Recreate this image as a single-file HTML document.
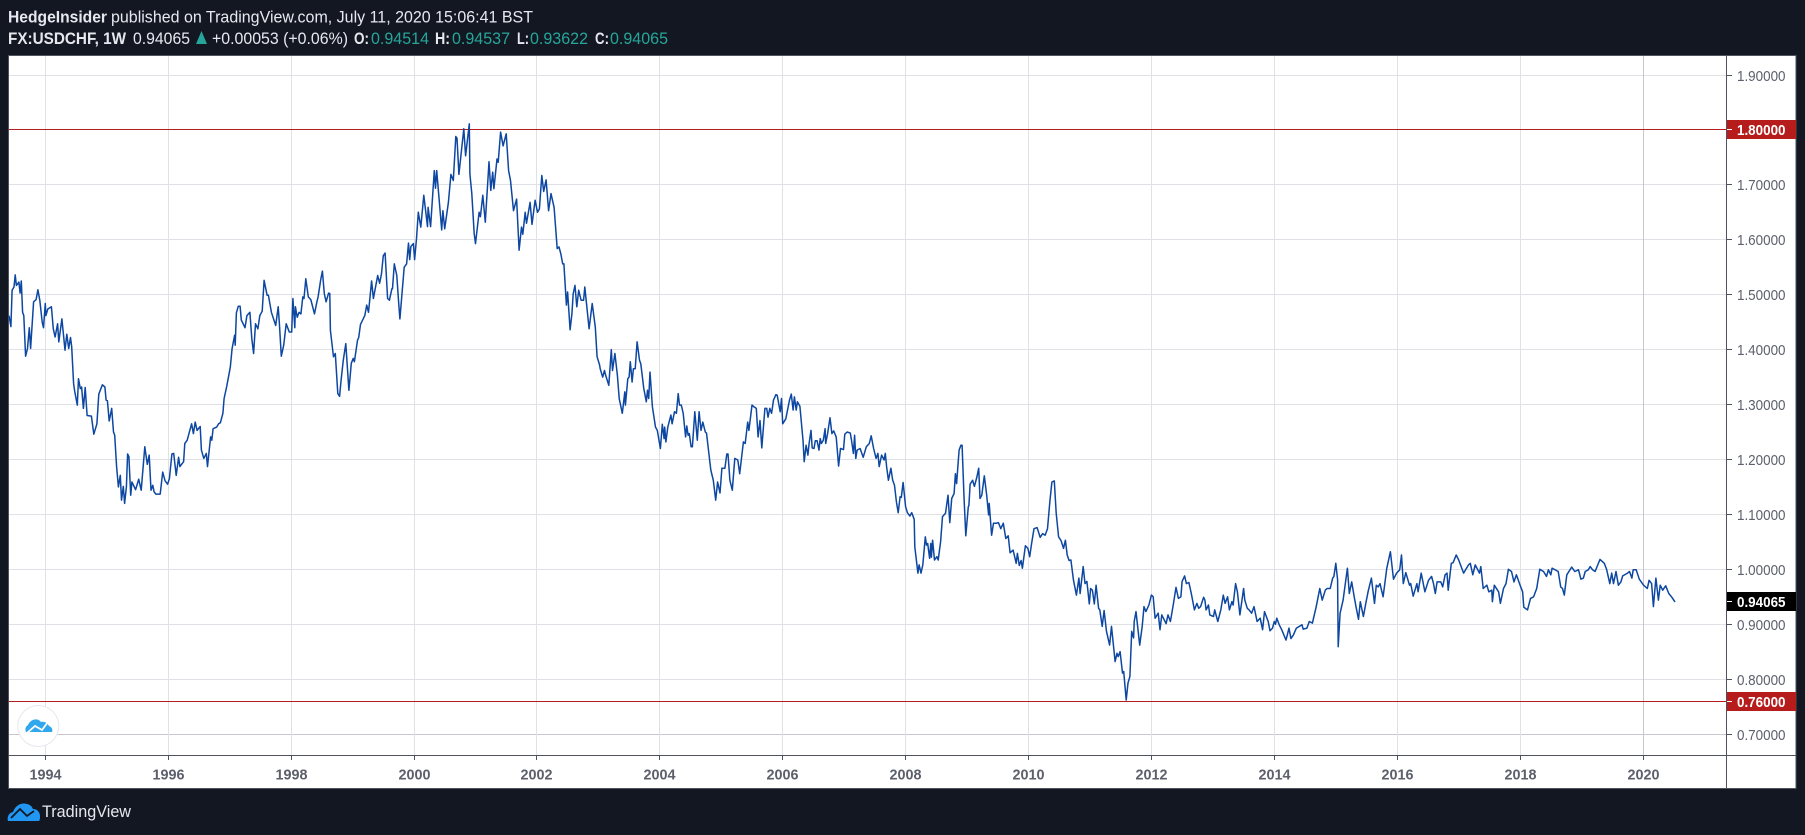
<!DOCTYPE html>
<html lang="en">
<head>
<meta charset="utf-8">
<title>FX:USDCHF 1W chart</title>
<style>
html,body{margin:0;padding:0;background:#131722;width:1805px;height:835px;overflow:hidden}
svg{display:block;font-family:"Liberation Sans",sans-serif}
</style>
</head>
<body>
<svg id="chart" xmlns="http://www.w3.org/2000/svg" width="1805" height="835" viewBox="0 0 1805 835">
  <rect x="0" y="0" width="1805" height="835" fill="#131722"/>
  <g font-size="16.5" fill="#e6e8ee">
    <text x="8" y="22.500" font-weight="bold" textLength="99" lengthAdjust="spacingAndGlyphs">HedgeInsider</text>
    <text x="111" y="22.500" textLength="422" lengthAdjust="spacingAndGlyphs">published on TradingView.com, July 11, 2020 15:06:41 BST</text>
  </g>
  <g font-size="16.5" fill="#e6e8ee">
    <text x="8" y="44" font-weight="bold" textLength="118" lengthAdjust="spacingAndGlyphs">FX:USDCHF, 1W</text>
    <text x="133" y="44" textLength="57" lengthAdjust="spacingAndGlyphs">0.94065</text>
    <polygon points="196,44 207,44 201.5,31" fill="#26a69a"/>
    <text x="212" y="44" textLength="136" lengthAdjust="spacingAndGlyphs">+0.00053 (+0.06%)</text>
    <text x="354" y="44" font-weight="bold" textLength="15" lengthAdjust="spacingAndGlyphs">O:</text>
    <text x="371" y="44" fill="#26a69a" textLength="58" lengthAdjust="spacingAndGlyphs">0.94514</text>
    <text x="435" y="44" font-weight="bold" textLength="15" lengthAdjust="spacingAndGlyphs">H:</text>
    <text x="452" y="44" fill="#26a69a" textLength="58" lengthAdjust="spacingAndGlyphs">0.94537</text>
    <text x="517" y="44" font-weight="bold" textLength="12" lengthAdjust="spacingAndGlyphs">L:</text>
    <text x="530" y="44" fill="#26a69a" textLength="58" lengthAdjust="spacingAndGlyphs">0.93622</text>
    <text x="595" y="44" font-weight="bold" textLength="14" lengthAdjust="spacingAndGlyphs">C:</text>
    <text x="610" y="44" fill="#26a69a" textLength="58" lengthAdjust="spacingAndGlyphs">0.94065</text>
  </g>
  <rect x="8.5" y="55.5" width="1787.5" height="733" fill="#ffffff" stroke="#50535e" stroke-width="1"/>
  <g id="grid"></g>
  <g id="levels"></g>
  <path id="series" fill="none" stroke="#0d47a1" stroke-width="1.5" stroke-linejoin="round"/>
  <line x1="1726.5" y1="55" x2="1726.5" y2="788" stroke="#50535e"/>
  <line x1="8.5" y1="755.5" x2="1796" y2="755.5" stroke="#50535e"/>
  <g id="priceAxis"></g>
  <g id="timeAxis"></g>
  <g id="badges"></g>
  <g>
    <circle cx="38.3" cy="726" r="20.5" fill="#ffffff" stroke="#e6e8ee" stroke-width="1"/>
    <path d="M26 732c-1.500-3 0-6 2-7 2-5 9-8 13-3 4-1 7 2 8 4 3 1 4 4 3 6z" fill="#31a7ee"/>
    <path d="M27 733l8-7 7 4 6-8 5 6" fill="none" stroke="#ffffff" stroke-width="1.800"/>
  </g>
  <g>
    <path d="M8 821c-1-3 0-8 5-9 2-6 8-10 14-8 4 1 5 3 6 5 4 0 7 3 7 7 0 2 0 4-1 5z" fill="#2196f3"/>
    <path d="M11 818l9-9 7 7 7-5" fill="none" stroke="#131722" stroke-width="1.800"/>
    <text x="42" y="817" font-size="17" fill="#e6e8ee" textLength="89" lengthAdjust="spacingAndGlyphs">TradingView</text>
  </g>
</svg>
<script>
const priceTicks = [0.7,0.8,0.9,1.0,1.1,1.2,1.3,1.4,1.5,1.6,1.7,1.8,1.9];
const yearTicks = [1994,1996,1998,2000,2002,2004,2006,2008,2010,2012,2014,2016,2018,2020];
const levelValues = [1.8,0.76];
const lastClose = 0.94065;
const years = [
1993.41,1993.44,1993.46,1993.49,1993.51,1993.53,1993.57,1993.59,1993.61,1993.63,1993.65,1993.68,1993.71,1993.74,1993.76,1993.81,1993.85,1993.88,1993.91,1993.95,1993.97,1994.00,1994.01,1994.04,1994.10,1994.13,1994.16,1994.20,1994.22,1994.27,1994.32,1994.35,1994.38,1994.41,1994.43,1994.46,1994.48,1994.52,1994.54,1994.57,1994.59,1994.62,1994.65,1994.68,1994.75,1994.79,1994.84,1994.87,1994.93,1994.97,1994.99,1995.01,1995.04,1995.08,1995.11,1995.13,1995.16,1995.19,1995.22,1995.24,1995.27,1995.29,1995.32,1995.34,1995.36,1995.39,1995.41,1995.47,1995.52,1995.56,1995.62,1995.66,1995.69,1995.72,1995.75,1995.77,1995.80,1995.87,1995.91,1995.95,1995.99,1996.02,1996.06,1996.09,1996.13,1996.17,1996.19,1996.25,1996.27,1996.31,1996.38,1996.41,1996.44,1996.47,1996.52,1996.54,1996.58,1996.62,1996.64,1996.69,1996.71,1996.73,1996.79,1996.82,1996.85,1996.89,1996.91,1996.95,1997.01,1997.04,1997.08,1997.09,1997.11,1997.14,1997.17,1997.19,1997.25,1997.28,1997.33,1997.36,1997.39,1997.42,1997.46,1997.49,1997.53,1997.56,1997.61,1997.63,1997.68,1997.75,1997.79,1997.81,1997.84,1997.88,1997.92,1997.97,1998.01,1998.03,1998.06,1998.07,1998.10,1998.13,
1998.16,1998.19,1998.21,1998.24,1998.28,1998.32,1998.38,1998.42,1998.44,1998.48,1998.51,1998.54,1998.57,1998.61,1998.63,1998.64,1998.69,1998.72,1998.76,1998.79,1998.81,1998.85,1998.89,1998.94,1998.98,1999.01,1999.03,1999.08,1999.10,1999.13,1999.20,1999.23,1999.26,1999.31,1999.34,1999.41,1999.44,1999.47,1999.50,1999.53,1999.57,1999.60,1999.64,1999.65,1999.68,1999.72,1999.75,1999.77,1999.84,1999.88,1999.91,1999.93,1999.95,1999.99,2000.01,2000.04,2000.07,2000.11,2000.16,2000.22,2000.23,2000.27,2000.33,2000.35,2000.37,2000.45,2000.47,2000.50,2000.56,2000.60,2000.64,2000.68,2000.70,2000.73,2000.81,2000.84,2000.90,2000.91,2000.94,2000.98,2001.00,2001.06,2001.08,2001.12,2001.16,2001.22,2001.25,2001.28,2001.30,2001.35,2001.37,2001.41,2001.45,2001.50,2001.54,2001.57,2001.62,2001.67,2001.71,2001.75,2001.77,2001.81,2001.83,2001.89,2001.92,2001.97,2002.01,2002.04,2002.08,2002.11,2002.15,2002.19,2002.23,2002.28,2002.33,2002.36,2002.39,2002.42,2002.44,2002.48,2002.50,2002.54,2002.57,2002.59,2002.62,2002.65,2002.68,2002.72,2002.76,2002.78,2002.85,2002.90,2002.95,2002.98,2003.02,
2003.03,2003.07,2003.10,2003.12,2003.17,2003.21,2003.23,2003.27,2003.31,2003.34,2003.39,2003.43,2003.44,2003.48,2003.50,2003.52,2003.55,2003.57,2003.60,2003.63,2003.67,2003.69,2003.74,2003.78,2003.80,2003.82,2003.84,2003.88,2003.93,2003.96,2004.01,2004.04,2004.07,2004.08,2004.10,2004.13,2004.18,2004.20,2004.24,2004.27,2004.30,2004.32,2004.35,2004.38,2004.42,2004.44,2004.46,2004.48,2004.51,2004.53,2004.57,2004.61,2004.64,2004.67,2004.70,2004.74,2004.76,2004.83,2004.87,2004.91,2004.94,2004.98,2005.01,2005.06,2005.09,2005.11,2005.14,2005.18,2005.22,2005.27,2005.30,2005.36,2005.39,2005.43,2005.45,2005.50,2005.53,2005.57,2005.60,2005.63,2005.66,2005.71,2005.74,2005.76,2005.79,2005.82,2005.85,2005.89,2005.91,2005.96,2005.98,2006.00,2006.05,2006.11,2006.14,2006.17,2006.19,2006.22,2006.24,2006.28,2006.33,2006.35,2006.38,2006.41,2006.43,2006.46,2006.48,2006.51,2006.53,2006.56,2006.59,2006.61,2006.63,2006.66,2006.69,2006.70,2006.73,2006.77,2006.80,2006.83,2006.87,2006.91,2006.94,2006.99,2007.01,2007.05,2007.10,2007.12,2007.15,2007.17,2007.19,2007.21,2007.26,2007.31,2007.36,2007.41,2007.44,2007.48,2007.52,2007.55,2007.57,2007.61,2007.65,2007.67,2007.69,2007.72,2007.76,2007.79,2007.82,2007.85,2007.88,2007.91,2007.93,2007.96,2008.00,2008.03,2008.07,2008.10,2008.14,
2008.15,2008.20,2008.22,2008.25,2008.28,2008.32,2008.34,2008.36,2008.39,2008.41,2008.42,2008.44,2008.47,2008.51,2008.53,2008.57,2008.60,2008.65,2008.69,2008.72,2008.75,2008.79,2008.81,2008.83,2008.87,2008.90,2008.92,2008.95,2008.98,2009.02,2009.03,2009.05,2009.09,2009.12,2009.16,2009.19,2009.21,2009.24,2009.28,2009.32,2009.35,2009.36,2009.40,2009.43,2009.48,2009.51,2009.55,2009.59,2009.63,2009.67,2009.70,2009.75,2009.80,2009.82,2009.85,2009.88,2009.90,2009.95,2009.99,2010.02,2010.05,2010.09,2010.14,2010.19,2010.23,2010.27,2010.31,2010.35,2010.38,2010.42,2010.45,2010.49,2010.53,2010.57,2010.60,2010.63,2010.66,2010.69,2010.73,2010.78,2010.82,2010.84,2010.89,2010.92,2010.95,2010.99,2011.01,2011.04,2011.07,2011.10,2011.14,2011.16,2011.20,2011.23,2011.27,2011.32,2011.35,2011.41,2011.44,2011.46,2011.49,2011.53,2011.55,2011.59,2011.62,2011.65,2011.68,2011.71,2011.72,2011.75,2011.81,2011.85,2011.88,2011.91,2011.96,2012.00,2012.03,2012.06,2012.11,2012.14,2012.17,2012.24,2012.27,2012.31,2012.36,2012.40,2012.44,2012.48,2012.50,2012.54,2012.57,2012.61,2012.65,2012.70,2012.74,2012.77,2012.80,2012.85,2012.87,2012.89,2012.93,2012.95,2013.01,2013.03,2013.08,2013.13,2013.17,2013.20,2013.24,2013.27,2013.31,2013.33,2013.37,2013.40,2013.44,2013.50,2013.52,2013.56,2013.59,2013.63,2013.67,2013.72,2013.77,
2013.81,2013.84,2013.90,2013.93,2013.97,2014.00,2014.02,2014.04,2014.08,2014.12,2014.19,2014.24,2014.27,2014.31,2014.36,2014.45,2014.47,2014.53,2014.57,2014.62,2014.68,2014.74,2014.78,2014.83,2014.86,2014.91,2014.95,2014.97,2015.00,2015.03,2015.04,2015.07,2015.12,2015.19,2015.22,2015.26,2015.30,2015.33,2015.37,2015.40,2015.45,2015.49,2015.53,2015.58,2015.63,2015.66,2015.69,2015.72,2015.77,2015.83,2015.89,2015.94,2015.99,2016.04,2016.07,2016.10,2016.14,2016.20,2016.22,2016.26,2016.32,2016.34,2016.39,2016.45,2016.51,2016.56,2016.59,2016.62,2016.65,2016.71,2016.74,2016.78,2016.81,2016.83,2016.88,2016.91,2016.96,2017.00,2017.08,2017.16,2017.19,2017.23,2017.27,2017.34,2017.36,2017.40,2017.46,2017.49,2017.54,2017.55,2017.58,2017.65,2017.68,2017.73,2017.77,2017.81,2017.86,2017.90,2017.94,2018.00,2018.04,2018.06,2018.12,2018.17,2018.22,2018.27,2018.32,2018.38,2018.43,2018.46,2018.50,2018.52,2018.62,2018.66,2018.69,2018.72,2018.76,2018.84,2018.89,2018.95,2018.99,2019.03,2019.06,2019.11,2019.14,2019.18,2019.22,2019.30,2019.37,2019.41,2019.46,2019.49,2019.52,2019.56,2019.60,2019.64,2019.67,2019.75,2019.78,2019.82,2019.84,2019.89,2019.94,2020.01,2020.07,2020.10,2020.14,2020.17,2020.21,2020.25,2020.28,2020.32,2020.37,2020.42,2020.47,2020.52
];
const closes = [
1.462,1.442,1.508,1.514,1.536,1.517,1.523,1.503,1.525,1.468,1.462,1.388,1.402,1.440,1.402,1.487,1.491,1.509,1.490,1.450,1.440,1.484,1.462,1.474,1.478,1.438,1.423,1.447,1.414,1.456,1.399,1.428,1.402,1.422,1.405,1.338,1.323,1.299,1.347,1.329,1.332,1.293,1.331,1.280,1.279,1.246,1.265,1.319,1.336,1.332,1.308,1.307,1.270,1.293,1.250,1.244,1.187,1.150,1.171,1.126,1.151,1.120,1.150,1.210,1.205,1.135,1.159,1.145,1.164,1.144,1.223,1.191,1.208,1.144,1.153,1.141,1.137,1.137,1.177,1.161,1.155,1.165,1.210,1.211,1.171,1.204,1.187,1.196,1.229,1.235,1.265,1.247,1.268,1.253,1.260,1.217,1.202,1.211,1.187,1.241,1.235,1.256,1.259,1.265,1.267,1.284,1.311,1.332,1.368,1.402,1.426,1.408,1.467,1.479,1.479,1.454,1.440,1.462,1.468,1.420,1.393,1.447,1.438,1.462,1.470,1.526,1.499,1.499,1.468,1.444,1.478,1.447,1.388,1.408,1.447,1.432,1.432,1.493,1.440,1.478,1.459,1.468,
1.465,1.496,1.493,1.529,1.496,1.491,1.465,1.487,1.496,1.526,1.543,1.502,1.487,1.503,1.502,1.435,1.387,1.393,1.320,1.315,1.341,1.381,1.411,1.326,1.375,1.384,1.378,1.417,1.422,1.446,1.462,1.481,1.468,1.525,1.493,1.535,1.521,1.537,1.571,1.576,1.493,1.490,1.511,1.511,1.556,1.535,1.487,1.456,1.550,1.556,1.594,1.564,1.588,1.593,1.564,1.602,1.650,1.623,1.681,1.624,1.659,1.624,1.726,1.694,1.726,1.618,1.653,1.620,1.668,1.719,1.708,1.788,1.785,1.719,1.802,1.753,1.811,1.720,1.684,1.611,1.593,1.650,1.642,1.681,1.632,1.742,1.690,1.723,1.693,1.747,1.741,1.796,1.771,1.793,1.726,1.708,1.653,1.674,1.581,1.623,1.610,1.650,1.630,1.668,1.628,1.672,1.650,1.656,1.717,1.688,1.709,1.653,1.684,1.659,1.584,1.587,1.574,1.556,1.556,1.481,1.505,1.436,1.465,1.502,1.517,1.478,1.508,1.490,1.490,1.514,1.438,1.484,1.441,1.387,1.372,
1.365,1.350,1.362,1.353,1.335,1.400,1.362,1.393,1.353,1.311,1.284,1.323,1.299,1.347,1.350,1.378,1.341,1.365,1.365,1.414,1.381,1.374,1.329,1.305,1.326,1.311,1.359,1.296,1.259,1.253,1.220,1.264,1.238,1.259,1.232,1.259,1.281,1.265,1.287,1.284,1.320,1.299,1.299,1.284,1.241,1.261,1.244,1.247,1.223,1.223,1.287,1.235,1.287,1.253,1.268,1.250,1.248,1.181,1.162,1.126,1.159,1.139,1.184,1.184,1.210,1.210,1.162,1.144,1.202,1.199,1.174,1.232,1.229,1.268,1.253,1.299,1.296,1.293,1.241,1.271,1.221,1.293,1.293,1.277,1.293,1.284,1.308,1.318,1.317,1.287,1.311,1.265,1.274,1.308,1.319,1.290,1.314,1.290,1.305,1.297,1.235,1.196,1.226,1.208,1.229,1.253,1.221,1.220,1.234,1.234,1.217,1.238,1.229,1.235,1.256,1.229,1.247,1.276,1.247,1.252,1.241,1.188,1.220,1.218,1.246,1.250,1.248,1.235,1.211,1.244,1.202,1.217,1.220,1.204,1.223,1.229,1.243,1.220,1.202,1.211,1.187,1.208,1.199,1.211,1.187,1.162,1.184,1.162,1.153,1.123,1.103,1.132,1.131,1.158,1.114,1.103,1.097,1.103,1.091,
1.041,0.993,1.008,0.993,1.008,1.059,1.044,1.047,1.020,1.047,1.022,1.053,1.017,1.023,1.017,1.050,1.096,1.102,1.135,1.085,1.129,1.138,1.174,1.156,1.217,1.226,1.226,1.132,1.061,1.114,1.116,1.155,1.162,1.151,1.168,1.184,1.129,1.135,1.170,1.135,1.099,1.120,1.062,1.084,1.084,1.085,1.074,1.084,1.056,1.061,1.030,1.035,1.011,1.029,1.007,1.016,1.002,1.043,1.038,1.023,1.047,1.074,1.076,1.058,1.065,1.062,1.074,1.126,1.159,1.161,1.102,1.059,1.052,1.038,1.053,1.026,1.016,1.017,0.981,0.953,0.984,0.956,1.005,0.974,0.978,0.937,0.965,0.962,0.937,0.971,0.929,0.926,0.896,0.925,0.887,0.862,0.896,0.832,0.847,0.841,0.850,0.811,0.814,0.762,0.793,0.805,0.887,0.875,0.905,0.923,0.862,0.896,0.932,0.923,0.935,0.953,0.950,0.911,0.920,0.890,0.917,0.901,0.917,0.905,0.938,0.967,0.947,0.950,0.978,0.988,0.974,0.976,0.956,0.926,0.938,0.929,0.932,0.949,0.944,0.926,0.935,0.917,0.914,0.926,0.905,0.926,0.953,0.938,0.950,0.926,0.941,0.935,0.974,0.959,0.917,0.965,0.944,0.929,0.926,0.920,0.932,0.905,0.911,
0.890,0.923,0.905,0.888,0.893,0.905,0.900,0.911,0.899,0.890,0.871,0.893,0.874,0.880,0.893,0.899,0.891,0.893,0.905,0.902,0.931,0.965,0.944,0.962,0.965,0.965,0.984,0.987,1.011,0.981,0.859,0.920,0.944,1.002,0.956,0.977,0.950,0.932,0.909,0.941,0.914,0.939,0.961,0.984,0.938,0.971,0.968,0.974,0.950,1.002,1.032,0.982,0.993,0.999,1.026,0.974,0.994,0.971,0.974,0.951,0.974,0.959,0.993,0.959,0.980,0.987,0.974,0.956,0.977,0.977,0.968,0.990,0.993,0.962,1.011,1.012,1.026,1.017,0.993,1.008,1.011,0.990,1.008,0.993,1.005,0.965,0.971,0.959,0.962,0.941,0.971,0.959,0.938,0.965,0.974,1.000,0.996,0.977,0.990,0.971,0.959,0.931,0.926,0.947,0.950,0.965,1.000,0.996,0.987,0.999,0.990,1.002,0.996,0.968,0.965,0.953,0.990,1.004,0.996,0.999,0.982,0.984,0.996,0.999,1.005,0.999,0.996,1.018,1.011,0.999,0.974,0.993,0.974,0.996,0.971,0.977,0.988,0.993,0.996,0.984,0.999,0.999,0.982,0.971,0.965,0.980,0.974,0.932,0.984,0.944,0.971,0.962,0.970,0.956,0.949,0.94065
];

const NS = 'http://www.w3.org/2000/svg';
function xOf(year){ return 45.3 + (year - 1994) * 61.45; }
function yOf(price){ return 569.3 - (price - 1) * 549.2; }
function make(parent, tag, attrs, text){
  const el = document.createElementNS(NS, tag);
  for (const k in attrs) el.setAttribute(k, attrs[k]);
  if (text !== undefined) el.textContent = text;
  parent.appendChild(el);
  return el;
}
function crisp(v){ return Math.round(v - 0.5) + 0.5; }

const grid = document.getElementById('grid');
const priceAxis = document.getElementById('priceAxis');
const timeAxis = document.getElementById('timeAxis');
const levels = document.getElementById('levels');
const badges = document.getElementById('badges');

priceTicks.forEach(function(p){
  const y = crisp(yOf(p));
  const line = make(grid, 'line', {x1:9, x2:1726, y1:y, y2:y, stroke: p === 0.7 ? '#c6c8ce' : '#dfe1e6', 'stroke-width':1});
  
  
  const tick = make(priceAxis, 'line', {x1:1727, x2:1732, y1:y, y2:y, stroke:'#50535e'});
  
  
  const label = make(priceAxis, 'text', {x:1737, y:y + 5.5, 'font-size':15, fill:'#5d606b', textLength:48.5, lengthAdjust:'spacingAndGlyphs'}, p.toFixed(5));
  
  
});

yearTicks.forEach(function(yr){
  const x = crisp(xOf(yr));
  const line = make(grid, 'line', {x1:x, x2:x, y1:56, y2:755, stroke: yr === 2020 ? '#c6c8ce' : '#dfe1e6', 'stroke-width':1});
  
  
  const tick = make(timeAxis, 'line', {x1:x, x2:x, y1:756, y2:760, stroke:'#50535e'});
  
  
  const label = make(timeAxis, 'text', {x:x - 16, y:779.5, 'font-size':15, 'font-weight':'bold', fill:'#5d606b', textLength:32, lengthAdjust:'spacingAndGlyphs'}, String(yr));
  
  
});

levelValues.forEach(function(v){
  const y = crisp(yOf(v));
  const line = make(levels, 'line', {x1:9, x2:1726, y1:y, y2:y, stroke:'#b71c1c', 'stroke-width':1});
  
  
  const box = make(badges, 'rect', {x:1727, y:y - 9.5, width:69, height:19, fill:'#b71c1c'});
  
  
  const tick = make(badges, 'line', {x1:1727, x2:1732, y1:y, y2:y, stroke:'#ffffff'});
  
  
  const label = make(badges, 'text', {x:1737, y:y + 5.5, 'font-size':15, 'font-weight':'bold', fill:'#ffffff', textLength:48.5, lengthAdjust:'spacingAndGlyphs'}, v.toFixed(5));
  
  
});

(function(){
  const y = crisp(yOf(lastClose));
  const box = make(badges, 'rect', {x:1727, y:y - 9.5, width:69, height:19, fill:'#000000'});
  
  
  const tick = make(badges, 'line', {x1:1727, x2:1732, y1:y, y2:y, stroke:'#ffffff'});
  
  
  const label = make(badges, 'text', {x:1737, y:y + 5.5, 'font-size':15, 'font-weight':'bold', fill:'#ffffff', textLength:48.5, lengthAdjust:'spacingAndGlyphs'}, lastClose.toFixed(5));
  
  
})();

const count = Math.min(years.length, closes.length);
let d = '';
for (let i = 0; i < count; i++) {
  d += (i ? 'L' : 'M') + Math.max(9, xOf(years[i])).toFixed(1) + ' ' + yOf(closes[i]).toFixed(1);
}
document.getElementById('series').setAttribute('d', d);
</script>
</body>
</html>
